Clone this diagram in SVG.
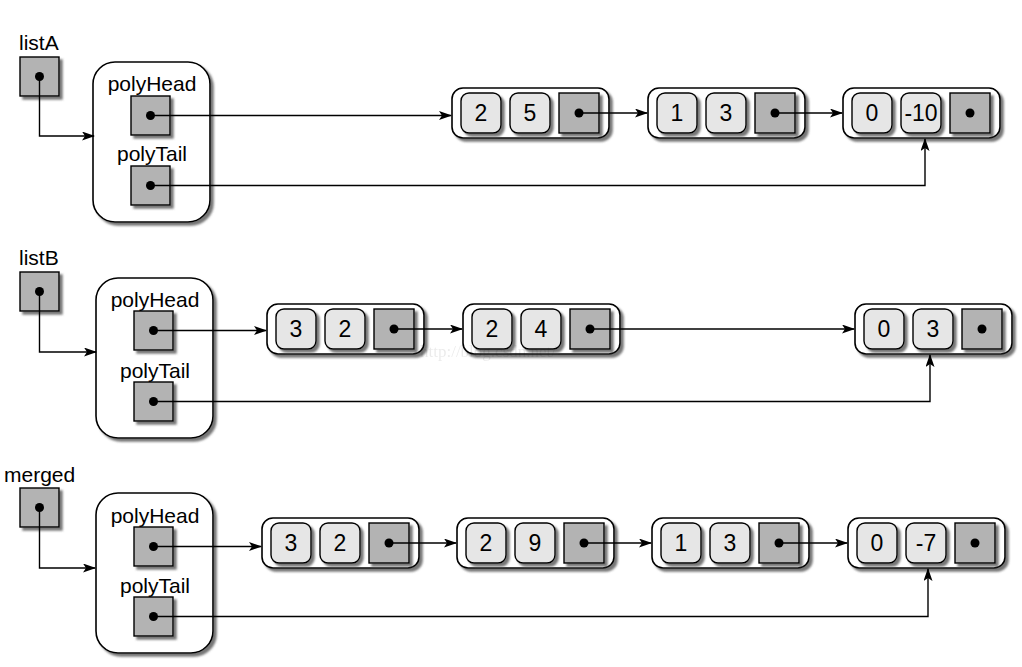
<svg xmlns="http://www.w3.org/2000/svg" width="1022" height="667" viewBox="0 0 1022 667">
<defs>
<filter id="sh" x="-10%" y="-10%" width="130%" height="130%">
<feDropShadow dx="3" dy="3" stdDeviation="0.8" flood-color="#555" flood-opacity="0.8"/>
</filter>
<marker id="ar" markerWidth="13" markerHeight="9" refX="12" refY="4.5" orient="auto" markerUnits="userSpaceOnUse">
<path d="M0,0 L13,4.5 L0,9 L3,4.5 Z" fill="#000"/>
</marker>
<g id="ptr">
<rect x="0" y="0" width="39" height="39" class="pb"/>
<circle cx="19.5" cy="19.5" r="4.5" fill="#000"/>
</g>
<g id="node">
<rect x="0" y="0" width="157" height="50" rx="11" class="outer"/>
<rect x="9" y="5" width="40" height="40" rx="8" class="vb"/>
<rect x="58" y="5" width="40" height="40" rx="8" class="vb"/>
<rect x="107" y="5" width="40" height="40" class="pb"/>
<circle cx="127" cy="25" r="4.5" fill="#000"/>
</g>
<g id="cont">
<rect x="0" y="0" width="117" height="160" rx="22" class="outer"/>
</g>
</defs>
<style>
.outer{fill:#fff;stroke:#000;stroke-width:1.6;filter:url(#sh)}
.vb{fill:#e6e6e6;stroke:#000;stroke-width:1.4;filter:url(#sh)}
.pb{fill:#b3b3b3;stroke:#000;stroke-width:1.4;filter:url(#sh)}
.lbl{font-family:"Liberation Sans",Arial,sans-serif;font-size:21px;fill:#000}
.val{font-family:"Liberation Sans",Arial,sans-serif;font-size:23px;fill:#000;text-anchor:middle}
.wm{font-family:"Liberation Serif",serif;font-size:17px;fill:#000;opacity:0.08}
.cn{fill:none;stroke:#000;stroke-width:1.4;marker-end:url(#ar)}
</style>
<rect width="1022" height="667" fill="#fff"/>

<!-- Section A -->
<g id="listA">
<text class="lbl" x="19" y="50">listA</text>
<use href="#ptr" x="20" y="57"/>
</g>
<g id="contA">
<use href="#cont" x="93" y="62"/>
<text class="lbl" x="152" y="91" text-anchor="middle">polyHead</text>
<use href="#ptr" x="131" y="96"/>
<text class="lbl" x="152" y="161" text-anchor="middle">polyTail</text>
<use href="#ptr" x="131" y="166"/>
</g>
<g id="A1"><use href="#node" x="452" y="88"/><text class="val" x="481" y="121">2</text><text class="val" x="530" y="121">5</text></g>
<g id="A2"><use href="#node" x="648" y="88"/><text class="val" x="677" y="121">1</text><text class="val" x="726" y="121">3</text></g>
<g id="A3"><use href="#node" x="843" y="88"/><text class="val" x="872" y="121">0</text><text class="val" x="921" y="121">-10</text></g>

<!-- Section B -->
<g id="listB">
<text class="lbl" x="19" y="265">listB</text>
<use href="#ptr" x="20" y="272"/>
</g>
<g id="contB">
<use href="#cont" x="96" y="278"/>
<text class="lbl" x="155" y="307" text-anchor="middle">polyHead</text>
<use href="#ptr" x="134" y="311"/>
<text class="lbl" x="155" y="378" text-anchor="middle">polyTail</text>
<use href="#ptr" x="134" y="382"/>
</g>
<g id="B1"><use href="#node" x="267" y="304"/><text class="val" x="296" y="337">3</text><text class="val" x="345" y="337">2</text></g>
<g id="B2"><use href="#node" x="463" y="304"/><text class="val" x="492" y="337">2</text><text class="val" x="541" y="337">4</text></g>
<g id="B3"><use href="#node" x="855" y="304"/><text class="val" x="884" y="337">0</text><text class="val" x="933" y="337">3</text></g>

<!-- Section C -->
<g id="merged">
<text class="lbl" x="4" y="482">merged</text>
<use href="#ptr" x="20" y="488"/>
</g>
<g id="contC">
<use href="#cont" x="96" y="493"/>
<text class="lbl" x="155" y="523" text-anchor="middle">polyHead</text>
<use href="#ptr" x="134" y="527"/>
<text class="lbl" x="155" y="593" text-anchor="middle">polyTail</text>
<use href="#ptr" x="134" y="597"/>
</g>
<g id="C1"><use href="#node" x="262" y="518"/><text class="val" x="291" y="551">3</text><text class="val" x="340" y="551">2</text></g>
<g id="C2"><use href="#node" x="457" y="518"/><text class="val" x="486" y="551">2</text><text class="val" x="535" y="551">9</text></g>
<g id="C3"><use href="#node" x="652" y="518"/><text class="val" x="681" y="551">1</text><text class="val" x="730" y="551">3</text></g>
<g id="C4"><use href="#node" x="848" y="518"/><text class="val" x="877" y="551">0</text><text class="val" x="926" y="551">-7</text></g>

<text class="wm" x="420" y="357">http://blog.csdn.net/</text>

<g id="connectors">
<path class="cn" d="M39.5,76.5 V136 H94"/>
<path class="cn" d="M150.5,115.5 H451"/>
<path class="cn" d="M579,113 H647"/>
<path class="cn" d="M775,113 H842"/>
<path class="cn" d="M150.5,185.5 H925 V139"/>

<path class="cn" d="M39.5,291.5 V352 H96"/>
<path class="cn" d="M153.5,330.5 H266"/>
<path class="cn" d="M394,329 H462"/>
<path class="cn" d="M590,329 H854"/>
<path class="cn" d="M153.5,401.5 H930 V355"/>

<path class="cn" d="M39.5,507.5 V568 H95"/>
<path class="cn" d="M153.5,546.5 H261"/>
<path class="cn" d="M389,543 H456"/>
<path class="cn" d="M584,543 H651"/>
<path class="cn" d="M779,543 H847"/>
<path class="cn" d="M153.5,616.5 H928 V569"/>
</g>
</svg>
